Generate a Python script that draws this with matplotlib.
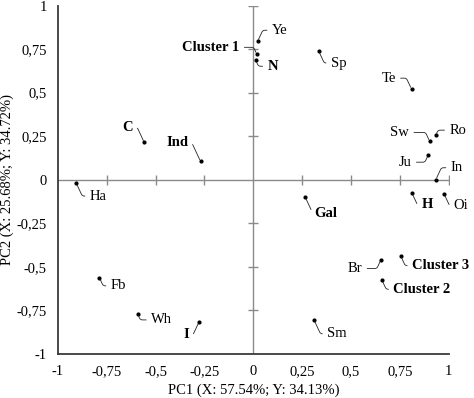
import numpy as np
import matplotlib
matplotlib.use("Agg")
from matplotlib import pyplot as plt

# PCA scores
labels = ["Ye", "Cluster 1", "N", "Sp", "Te", "Sw", "Ro", "Ju", "In",
          "C", "Ind", "Ha", "Fb", "Wh", "I", "Gal", "H", "Oi",
          "Br", "Cluster 3", "Cluster 2", "Sm"]
pc1 = [0.022, 0.018, 0.012, 0.334, 0.809, 0.902, 0.933, 0.894, 0.933,
       -0.558, -0.270, -0.906, -0.787, -0.592, -0.278, 0.265, 0.811, 0.975,
       0.653, 0.753, 0.658, 0.310]
pc2 = [0.795, 0.720, 0.686, 0.739, 0.520, 0.220, 0.256, 0.141, 0.000,
       0.214, 0.105, -0.019, -0.563, -0.770, -0.816, -0.099, -0.076, -0.080,
       -0.458, -0.436, -0.577, -0.804]
bold = ["Cluster 1", "N", "C", "Ind", "I", "Gal", "H", "Cluster 3", "Cluster 2"]

ticks = [-1, -0.75, -0.5, -0.25, 0, 0.25, 0.5, 0.75, 1]
tick_labels = ["-1", "-0,75", "-0,5", "-0,25", "0", "0,25", "0,5", "0,75", "1"]

# label offsets (pixels) from each point
offsets = {"Ye": (22, 11), "Cluster 1": (-46, 7), "N": (17, -6), "Sp": (20, -12),
           "Te": (-23, 11), "Sw": (-30, 9), "Ro": (22, 5), "Ju": (-23, -7),
           "In": (21, 12), "C": (-17, 15), "Ind": (-23, 19), "Ha": (22, -13),
           "Fb": (19, -8), "Wh": (24, -6), "I": (-13, -13), "Gal": (21, -16),
           "H": (15, -12), "Oi": (17, -12), "Br": (-26, -9), "Cluster 3": (40, -10),
           "Cluster 2": (40, -9), "Sm": (23, -14)}

plt.rcParams['font.family'] = ['Liberation Serif', 'DejaVu Serif']

fig = plt.figure(figsize=(4.74, 3.98), dpi=100)
ax = fig.add_axes([0.122, 0.1106, 0.825, 0.8755])
ax.set_xlim(-1, 1)
ax.set_ylim(-1, 1)

# centre axes with tick marks
ax.axhline(0, color='#8a8a8a', lw=1.0, zorder=1)
ax.axvline(0, color='#8a8a8a', lw=1.0, zorder=1)
tk = [t for t in ticks if t not in (-1, 0)]
ax.plot(tk, np.zeros(len(tk)), ls='none', marker='|', ms=6.5, mew=1.0, color='#8a8a8a', zorder=1)
ax.plot(np.zeros(len(tk)), tk, ls='none', marker='_', ms=6.5, mew=1.0, color='#8a8a8a', zorder=1)

for s in ['top', 'right']:
    ax.spines[s].set_visible(False)
for s in ['left', 'bottom']:
    ax.spines[s].set_color('#3a3a3a')
    ax.spines[s].set_linewidth(1.3)

ax.set_xticks(ticks)
ax.set_xticklabels(tick_labels)
ax.set_yticks(ticks)
ax.set_yticklabels(tick_labels)
ax.tick_params(length=0, labelsize=10.5, pad=8)

ax.set_xlabel("PC1 (X: 57.54%; Y: 34.13%)", fontsize=10.5, labelpad=4)
ax.set_ylabel("PC2 (X: 25.68%; Y: 34.72%)", fontsize=10.5, labelpad=2)

ax.plot(pc1, pc2, ls='none', marker='o', ms=2.0, color='black', zorder=3)

for lab, x, y in zip(labels, pc1, pc2):
    dx, dy = offsets[lab]
    angB = 65 if dx * dy > 0 else 115
    ax.annotate(lab, (x, y), xytext=(dx, dy), textcoords='offset pixels',
                ha='center', va='center', fontsize=10.5,
                fontweight='bold' if lab in bold else 'normal',
                annotation_clip=False,
                arrowprops=dict(arrowstyle='-', color='#222222', lw=0.6,
                                shrinkA=1.5, shrinkB=1.5,
                                connectionstyle='angle,angleA=0,angleB=%d,rad=2' % angB))

fig.savefig("out.png", dpi=100)
